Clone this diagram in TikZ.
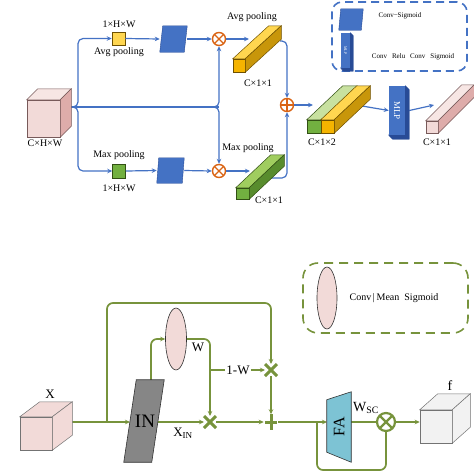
\documentclass[tikz,border=0pt]{standalone}
\usepackage{fontspec}
\setmainfont{Liberation Serif}
\usetikzlibrary{arrows.meta,calc,shapes.misc,shapes.geometric}
\definecolor{lb}{RGB}{68,114,196}
\definecolor{lbd}{RGB}{40,75,150}
\definecolor{org}{RGB}{218,100,20}
\definecolor{grn}{RGB}{119,147,60}
\definecolor{pkf}{RGB}{242,218,216}
\definecolor{pkt}{RGB}{247,230,228}
\definecolor{pks}{RGB}{222,172,170}
\definecolor{pkd}{RGB}{120,90,90}
\definecolor{yf}{RGB}{245,180,0}
\definecolor{yt}{RGB}{255,214,80}
\definecolor{ys}{RGB}{200,150,10}
\definecolor{yd}{RGB}{110,80,0}
\definecolor{gf}{RGB}{114,176,64}
\definecolor{gt}{RGB}{160,205,95}
\definecolor{gs}{RGB}{88,140,45}
\definecolor{gd}{RGB}{50,80,20}
\definecolor{glt}{RGB}{200,225,160}
\definecolor{fac}{RGB}{125,195,212}
\definecolor{fcube}{RGB}{242,242,242}
\newcommand{\depthfaces}[5]{%
  \filldraw[#4] (#1.north west) -- ++(#2,#3) -- ($(#1.north east)+(#2,#3)$) -- (#1.north east) -- cycle;
  \filldraw[#5] (#1.north east) -- ++(#2,#3) -- ($(#1.south east)+(#2,#3)$) -- (#1.south east) -- cycle;}
\tikzset{
  bl/.style={draw=lb, line width=1.2pt, -{Stealth[length=5pt,width=4.5pt]}},
  blp/.style={draw=lb, line width=1.2pt},
  gr/.style={draw=grn, line width=1.7pt, -{Stealth[length=5pt,width=4.5pt]}},
  grp/.style={draw=grn, line width=1.7pt},
  face/.style={inner sep=0pt, line width=0.5pt},
  lbl/.style={font=\fontsize{10}{12}\selectfont, inner sep=1pt},
  otm/.style={circle, draw=org, fill=white, line width=1.4pt, minimum size=13pt, inner sep=0pt,
    path picture={\draw[org,line width=1.4pt] (path picture bounding box.north west) -- (path picture bounding box.south east) (path picture bounding box.north east) -- (path picture bounding box.south west);}},
  opl/.style={circle, draw=org, fill=white, line width=1.4pt, minimum size=13pt, inner sep=0pt,
    path picture={\draw[org,line width=1.4pt] (path picture bounding box.north) -- (path picture bounding box.south) (path picture bounding box.east) -- (path picture bounding box.west);}},
  gotm/.style={circle, draw=grn, fill=white, line width=2.2pt, minimum size=18pt, inner sep=0pt,
    path picture={\draw[grn,line width=2.2pt] (path picture bounding box.north west) -- (path picture bounding box.south east) (path picture bounding box.north east) -- (path picture bounding box.south west);}},
  xmk/.style={cross out, draw=grn, line width=3pt, minimum size=9pt, inner sep=0pt},
}
\begin{document}
\begin{tikzpicture}[x=1pt,y=-1pt]
\useasboundingbox (0,0) rectangle (474,472);
% ================= TOP DIAGRAM =================
% named nodes
\node[face, draw=none, minimum width=33pt, minimum height=37pt] (c1) at (43.5,118.5) {};
\coordinate (jl) at (78,107);
\node[face, draw=yd, fill=yt, minimum width=13pt, minimum height=13pt] (sqA) at (118.5,38.5) {};
\node[face, draw=gd, fill=gf, minimum width=13pt, minimum height=14pt] (sqM) at (119,171) {};
\node[face, minimum width=27pt, minimum height=26pt] (pA) at (173.5,39) {};
\node[face, minimum width=27pt, minimum height=25pt] (pM) at (170.5,170.5) {};
\node[otm] (otA) at (219,39) {};
\node[otm] (otM) at (219,171) {};
\coordinate (aA) at (249,39);
\coordinate (aM) at (250,171);
\node[opl] (plus) at (287,105) {};
\coordinate (yAo) at (280,41);
\coordinate (gMo) at (270,178);
\coordinate (aP) at (313,105);
\coordinate (b2o) at (356,105);
\node[face, minimum width=16pt, minimum height=49pt] (mlp) at (397,110.5) {};
\coordinate (aK) at (434,105);

% connectors (drawn below shapes)
\draw[blp] (c1.east |- jl) -- (jl -| otA);
\draw[bl, rounded corners=5] (c1.east |- jl) -| (jl |- sqA.west) -- (sqA.west);
\draw[bl, rounded corners=5] (c1.east |- jl) -| (jl |- sqM.west) -- (sqM.west);
\draw[bl, rounded corners=5] (c1.east |- jl) -| (otA.south);
\draw[bl, rounded corners=5] (c1.east |- jl) -| (otM.north);
\draw[bl] (sqA.east) -- (pA.west);
\draw[bl] (sqM.east) -- (pM.west);
\draw[bl] (pA.east) -- (otA.west);
\draw[bl] (pM.east) -- (otM.west);
\draw[bl] (otA.east) -- (aA);
\draw[bl] (otM.east) -- (aM);
\draw[bl, rounded corners=5] (yAo) -| (plus.north);
\draw[bl, rounded corners=5] (gMo) -| (plus.south);
\draw[bl] (plus.east) -- (aP);
\draw[bl] (b2o) -- (mlp.west);
\draw[bl] ($(mlp.east)+(4,0)$) -- (aK);

% input cube
\node[face, draw=pkd, fill=pkf, minimum width=33pt, minimum height=37pt] (c1f) at (c1) {};
\depthfaces{c1f}{11}{-11}{draw=pkd,fill=pkt,line width=0.5pt}{draw=pkd,fill=pks,line width=0.5pt}
\node[lbl] (lc1) at (45,143) {C×H×W};
% small squares labels
\node[lbl] (lsA1) at (119,24) {1×H×W};
\node[lbl] (lsA2) at (119,52) {Avg pooling};
\node[lbl] (lsM1) at (119,155) {Max pooling};
\node[lbl] (lsM2) at (119,188) {1×H×W};
% parallelograms
\filldraw[fill=lb, draw=lbd, line width=0.4pt] (pA.south west) -- ($(pA.north west)+(3,0)$) -- (pA.north east) -- ($(pA.south east)+(-3,0)$) -- cycle;
\filldraw[fill=lb, draw=lbd, line width=0.4pt] (pM.south west) -- ($(pM.north west)+(2,0)$) -- (pM.north east) -- ($(pM.south east)+(-2,0)$) -- cycle;
% yellow bar
\node[face, draw=yd, fill=yf, minimum width=12pt, minimum height=13pt] (yA) at (239,65.5) {};
\depthfaces{yA}{36}{-33}{draw=yd,fill=yt,line width=0.5pt}{draw=yd,fill=ys,line width=0.5pt}
\node[lbl] (lyA) at (258,83) {C×1×1};
\node[lbl] (lavg) at (252,17) {Avg pooling};
% green bar
\node[face, draw=gd, fill=gf, minimum width=13pt, minimum height=11pt] (gM) at (242.5,193.5) {};
\depthfaces{gM}{35}{-33}{draw=gd,fill=gt,line width=0.5pt}{draw=gd,fill=gs,line width=0.5pt}
\node[lbl] (lgM) at (269,200) {C×1×1};
\node[lbl] (lmax) at (248,148) {Max pooling};
% concatenated bar
\node[face, draw=gd, fill=gf, minimum width=14pt, minimum height=13pt] (b2g) at (314,126.5) {};
\node[face, draw=yd, fill=yf, minimum width=13pt, minimum height=13pt] (b2y) at (327.5,126.5) {};
\filldraw[draw=gd, fill=glt, line width=0.5pt] (b2g.north west) -- ++(36,-34) -- ($(b2g.north east)+(36,-34)$) -- (b2g.north east) -- cycle;
\depthfaces{b2y}{36}{-34}{draw=yd,fill=yt,line width=0.5pt}{draw=yd,fill=ys,line width=0.5pt}
\node[lbl] (lb2) at (322,142) {C×1×2};
% MLP
\filldraw[fill=lbd, draw=lbd] (mlp.north east) -- ++(4,4) -- ($(mlp.south east)+(4,4)$) -- ($(mlp.south west)+(4,4)$) -- (mlp.south west) -- cycle;
\node[face, fill=lb, minimum width=16pt, minimum height=49pt, text=white, font=\fontsize{9}{10}\selectfont] (mlpt) at (mlp) {\rotatebox{-90}{MLP}};
% pink output bar
\node[face, draw=pkd, fill=pkf, minimum width=12pt, minimum height=12pt] (pk) at (432,127) {};
\depthfaces{pk}{36}{-36}{draw=pkd,fill=pkt,line width=0.5pt}{draw=pkd,fill=pks,line width=0.5pt}
\node[lbl] (lpk) at (437,142) {C×1×1};
% legend (top)
\node[draw=lb, line width=1.6pt, dash pattern=on 8pt off 5pt, rounded corners=10pt, minimum width=135pt, minimum height=69pt] (legA) at (399.5,36.5) {};
\node[face, minimum width=24pt, minimum height=21pt] (lpar) at (351,19.5) {};
\filldraw[fill=lb, draw=lbd, line width=0.4pt] (lpar.south west) -- ($(lpar.north west)+(2,0)$) -- (lpar.north east) -- ($(lpar.south east)+(-2,0)$) -- cycle;
\node[font=\fontsize{7}{8}\selectfont, inner sep=0pt] (lt1) at (400,16) {Conv−Sigmoid};
\node[face, minimum width=9pt, minimum height=35pt] (lmlp) at (345.5,50.5) {};
\filldraw[fill=lbd, draw=lbd] (lmlp.north east) -- ++(3,3) -- ($(lmlp.south east)+(3,3)$) -- ($(lmlp.south west)+(3,3)$) -- (lmlp.south west) -- cycle;
\node[face, fill=lb, minimum width=9pt, minimum height=35pt, text=white, font=\fontsize{4}{5}\selectfont] (lmlpt) at (lmlp) {\rotatebox{-90}{MLP}};
\node[font=\fontsize{7}{8}\selectfont, inner sep=0pt] (lt2) at (413,57) {Conv\hspace{5pt}Relu\hspace{5pt}Conv\hspace{5pt}Sigmoid};

% ================= BOTTOM DIAGRAM =================
\node[face, minimum width=32pt, minimum height=33pt] (X) at (36,433.5) {};
\coordinate (ml) at (107,422);
\node[face, minimum width=40pt, minimum height=82pt] (IN) at (144,421) {};
\coordinate (inL) at (130,422);
\coordinate (inR) at (158,422);
\coordinate (inT) at (151,380);
\node[ellipse, draw=black!80, fill=pkf, line width=0.6pt, minimum width=21pt, minimum height=62pt, inner sep=0pt] (ell) at (176,339) {};
\node[xmk] (xA) at (210,422) {};
\node[xmk] (xB) at (271,370) {};
\coordinate (tr) at (271,303);
\coordinate (wb) at (210,370);
\node[font=\fontsize{13}{14}\selectfont, inner sep=1pt, fill=white] (oneW) at (238,370) {1-W};
\node[face, minimum width=14pt, minimum height=15pt] (pj) at (271,422) {};
\node[face, minimum width=24pt, minimum height=70pt] (FA) at (339,427) {};
\coordinate (faL) at (327,422);
\coordinate (faR) at (351,422);
\coordinate (br2) at (317,422);
\coordinate (bt) at (317,470);
\node[gotm] (ot2) at (386,422) {};
\node[face, minimum width=32pt, minimum height=33pt] (f) at (436,426.5) {};

% connectors
\draw[gr] (X.east |- inL) -- (inL);
\draw[gr, rounded corners=6] (ml) |- (tr) -- (xB.north);
\draw[gr, rounded corners=6] (inT) |- (ell.west);
\draw[gr, rounded corners=6] (ell.east) -| (xA.north);
\draw[grp] (wb) -- (oneW.west);
\draw[gr] (oneW.east) -- (xB.west);
\draw[gr] (inR) -- (xA.west);
\draw[gr] (xA.east) -- (pj.west);
\draw[gr] (xB.south) -- (pj.north);
\draw[gr] (pj.east) -- (faL);
\draw[grp, rounded corners=6] (br2) -- (bt) -| (ot2.south);
\draw[grp] (faR) -- (ot2.west);
\draw[gr] (ot2.east) -- (ot2.east -| f.west);

% plus junction
\draw[grn, line width=3pt] (pj.north) -- (pj.south) ($(pj.west)+(1,0)$) -- ($(pj.east)+(-1,0)$);
% cube X
\node[face, draw=black!55, fill=pkf, minimum width=32pt, minimum height=33pt] (Xf) at (X) {};
\depthfaces{Xf}{20}{-15}{draw=black!55,fill=pkf,line width=0.5pt}{draw=black!55,fill=pkf,line width=0.5pt}
\node[font=\fontsize{13}{14}\selectfont, inner sep=0pt] (lX) at (50,394) {X};
% IN block
\filldraw[fill=gray!95, draw=black!80, line width=0.6pt] (IN.south west) -- ($(IN.south west)+(28,0)$) -- (IN.north east) -- ($(IN.north east)+(-28,0)$) -- cycle;
\node[font=\fontsize{19}{20}\selectfont, inner sep=0pt] (INt) at (145,421) {IN};
\node[font=\fontsize{13}{14}\selectfont, inner sep=0pt] (lW) at (198,347) {W};
\node[font=\fontsize{13}{14}\selectfont, inner sep=0pt] (lXin) at (183,433) {X\textsubscript{IN}};
% FA
\filldraw[fill=fac, draw=black!80, line width=0.6pt] (FA.south east) -- (FA.north east) -- ($(FA.north west)+(0,8)$) -- ($(FA.south west)+(0,-10)$) -- cycle;
\node[font=\fontsize{16}{17}\selectfont, inner sep=0pt, rotate=90] (FAt) at (339,427) {FA};
\node[font=\fontsize{14}{15}\selectfont, inner sep=0pt] (lWsc) at (366,408) {W\textsubscript{SC}};
% cube f
\node[face, draw=black!55, fill=fcube, minimum width=32pt, minimum height=33pt] (ff) at (f) {};
\depthfaces{ff}{18}{-16}{draw=black!55,fill=fcube,line width=0.5pt}{draw=black!55,fill=fcube,line width=0.5pt}
\node[font=\fontsize{14}{15}\selectfont, inner sep=0pt] (lf) at (450,386) {f};
% legend (bottom)
\node[draw=grn, line width=1.6pt, dash pattern=on 9pt off 6pt, rounded corners=15pt, minimum width=165pt, minimum height=70pt] (legB) at (385.5,298) {};
\node[ellipse, draw=black!80, fill=pkf, line width=0.6pt, minimum width=20pt, minimum height=62pt, inner sep=0pt] (lell) at (327,298) {};
\node[font=\fontsize{10}{11}\selectfont, inner sep=0pt] (lt3) at (394,298) {Conv\,|\,Mean\ \ Sigmoid};
\end{tikzpicture}
\end{document}
